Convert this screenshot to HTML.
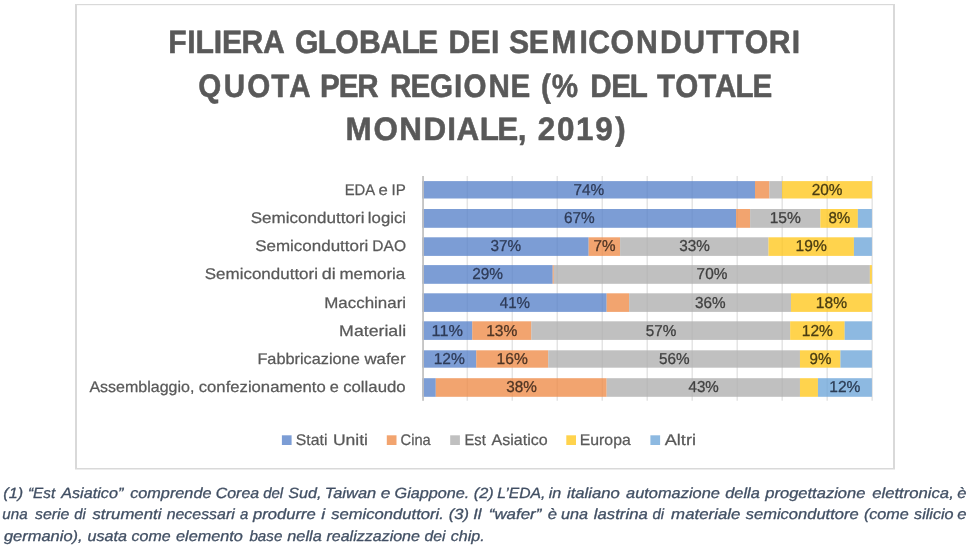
<!DOCTYPE html>
<html lang="it">
<head>
<meta charset="utf-8">
<title>Filiera globale dei semiconduttori</title>
<style>
html,body{margin:0;padding:0;background:#fff;}
body{width:970px;height:546px;overflow:hidden;}
svg{display:block;}
svg{font-family:"Liberation Sans", sans-serif;}
text{text-rendering:geometricPrecision;white-space:pre;}
</style>
</head>
<body>
<svg width="970" height="546" viewBox="0 0 970 546">
<defs><filter id="soft" x="0" y="0" width="970" height="546" filterUnits="userSpaceOnUse" color-interpolation-filters="sRGB"><feGaussianBlur stdDeviation="0.4"/></filter></defs>
<rect width="970" height="546" fill="#ffffff"/>
<rect x="75.0" y="4.0" width="820.0" height="465.5" fill="#d9d9d9"/>
<rect x="77.0" y="5.2" width="816.0" height="462.8" fill="#ffffff"/>
<g filter="url(#soft)">
<g>
<line x1="467.29" y1="176.0" x2="467.29" y2="400.8" stroke="#d9d9d9" stroke-width="1.5" stroke-opacity="0.7"/>
<line x1="512.28" y1="176.0" x2="512.28" y2="400.8" stroke="#d9d9d9" stroke-width="1.5" stroke-opacity="0.7"/>
<line x1="557.27" y1="176.0" x2="557.27" y2="400.8" stroke="#d9d9d9" stroke-width="1.5" stroke-opacity="0.7"/>
<line x1="602.26" y1="176.0" x2="602.26" y2="400.8" stroke="#d9d9d9" stroke-width="1.5" stroke-opacity="0.7"/>
<line x1="647.25" y1="176.0" x2="647.25" y2="400.8" stroke="#d9d9d9" stroke-width="1.5" stroke-opacity="0.7"/>
<line x1="692.24" y1="176.0" x2="692.24" y2="400.8" stroke="#d9d9d9" stroke-width="1.5" stroke-opacity="0.7"/>
<line x1="737.23" y1="176.0" x2="737.23" y2="400.8" stroke="#d9d9d9" stroke-width="1.5" stroke-opacity="0.7"/>
<line x1="782.22" y1="176.0" x2="782.22" y2="400.8" stroke="#d9d9d9" stroke-width="1.5" stroke-opacity="0.7"/>
<line x1="827.21" y1="176.0" x2="827.21" y2="400.8" stroke="#d9d9d9" stroke-width="1.5" stroke-opacity="0.7"/>
<line x1="872.20" y1="176.0" x2="872.20" y2="400.8" stroke="#d9d9d9" stroke-width="1.5" stroke-opacity="0.7"/>
<rect x="422.30" y="181.10" width="332.70" height="17.4" fill="#5b84cb" fill-opacity="0.8"/>
<rect x="755.00" y="181.10" width="14.39" height="17.4" fill="#ef8d4b" fill-opacity="0.8"/>
<rect x="769.39" y="181.10" width="12.59" height="17.4" fill="#b0b0b0" fill-opacity="0.8"/>
<rect x="781.98" y="181.10" width="89.92" height="17.4" fill="#ffc820" fill-opacity="0.8"/>
<rect x="422.30" y="209.00" width="313.78" height="18.8" fill="#5b84cb" fill-opacity="0.8"/>
<rect x="736.08" y="209.00" width="14.05" height="18.8" fill="#ef8d4b" fill-opacity="0.8"/>
<rect x="750.13" y="209.00" width="70.25" height="18.8" fill="#b0b0b0" fill-opacity="0.8"/>
<rect x="820.38" y="209.00" width="37.47" height="18.8" fill="#ffc820" fill-opacity="0.8"/>
<rect x="857.85" y="209.00" width="14.05" height="18.8" fill="#70a8da" fill-opacity="0.8"/>
<rect x="422.30" y="237.30" width="166.35" height="18.6" fill="#5b84cb" fill-opacity="0.8"/>
<rect x="588.65" y="237.30" width="31.47" height="18.6" fill="#ef8d4b" fill-opacity="0.8"/>
<rect x="620.12" y="237.30" width="148.37" height="18.6" fill="#b0b0b0" fill-opacity="0.8"/>
<rect x="768.49" y="237.30" width="85.42" height="18.6" fill="#ffc820" fill-opacity="0.8"/>
<rect x="853.92" y="237.30" width="17.98" height="18.6" fill="#70a8da" fill-opacity="0.8"/>
<rect x="422.30" y="265.10" width="130.38" height="18.7" fill="#5b84cb" fill-opacity="0.8"/>
<rect x="552.68" y="265.10" width="1.12" height="18.7" fill="#ef8d4b" fill-opacity="0.8"/>
<rect x="553.81" y="265.10" width="316.07" height="18.7" fill="#b0b0b0" fill-opacity="0.8"/>
<rect x="869.88" y="265.10" width="2.02" height="18.7" fill="#ffc820" fill-opacity="0.8"/>
<rect x="422.30" y="293.30" width="184.34" height="18.6" fill="#5b84cb" fill-opacity="0.8"/>
<rect x="606.64" y="293.30" width="22.48" height="18.6" fill="#ef8d4b" fill-opacity="0.8"/>
<rect x="629.12" y="293.30" width="161.86" height="18.6" fill="#b0b0b0" fill-opacity="0.8"/>
<rect x="790.97" y="293.30" width="80.93" height="18.6" fill="#ffc820" fill-opacity="0.8"/>
<rect x="422.30" y="321.30" width="49.96" height="18.6" fill="#5b84cb" fill-opacity="0.8"/>
<rect x="472.26" y="321.30" width="59.04" height="18.6" fill="#ef8d4b" fill-opacity="0.8"/>
<rect x="531.29" y="321.30" width="258.86" height="18.6" fill="#b0b0b0" fill-opacity="0.8"/>
<rect x="790.15" y="321.30" width="54.50" height="18.6" fill="#ffc820" fill-opacity="0.8"/>
<rect x="844.65" y="321.30" width="27.25" height="18.6" fill="#70a8da" fill-opacity="0.8"/>
<rect x="422.30" y="350.30" width="53.95" height="17.4" fill="#5b84cb" fill-opacity="0.8"/>
<rect x="476.25" y="350.30" width="71.94" height="17.4" fill="#ef8d4b" fill-opacity="0.8"/>
<rect x="548.19" y="350.30" width="251.78" height="17.4" fill="#b0b0b0" fill-opacity="0.8"/>
<rect x="799.96" y="350.30" width="40.46" height="17.4" fill="#ffc820" fill-opacity="0.8"/>
<rect x="840.43" y="350.30" width="31.47" height="17.4" fill="#70a8da" fill-opacity="0.8"/>
<rect x="422.30" y="378.20" width="13.49" height="18.6" fill="#5b84cb" fill-opacity="0.8"/>
<rect x="435.79" y="378.20" width="170.85" height="18.6" fill="#ef8d4b" fill-opacity="0.8"/>
<rect x="606.64" y="378.20" width="193.33" height="18.6" fill="#b0b0b0" fill-opacity="0.8"/>
<rect x="799.96" y="378.20" width="17.98" height="18.6" fill="#ffc820" fill-opacity="0.8"/>
<rect x="817.95" y="378.20" width="53.95" height="18.6" fill="#70a8da" fill-opacity="0.8"/>
<rect x="422.2" y="176.0" width="1.7" height="224.8" fill="#bfbfbf"/>
<rect x="281.9" y="435.3" width="9.7" height="9.7" fill="#5b84cb" fill-opacity="0.8"/>
<rect x="386.8" y="435.3" width="9.7" height="9.7" fill="#ef8d4b" fill-opacity="0.8"/>
<rect x="450.2" y="435.3" width="9.7" height="9.7" fill="#b0b0b0" fill-opacity="0.8"/>
<rect x="566.3" y="435.3" width="9.7" height="9.7" fill="#ffc820" fill-opacity="0.8"/>
<rect x="650.4" y="435.3" width="9.7" height="9.7" fill="#70a8da" fill-opacity="0.8"/>
</g>
<g>
<text transform="translate(0 52.70) scale(0.9321 1)" x="180.5 200.9 209.8 229.2 238.2 259.0 282.1 299.3 316.5 340.8 359.8 385.1 407.9 430.8 448.5 464.9 481.2 504.9 526.7 536.4 546.1 567.3 591.3 621.8 631.0 655.0 682.3 708.0 732.9 757.5 778.2 798.9 824.8 849.4" font-size="32.4" font-weight="bold" fill="#595959" stroke="#595959" stroke-width="0.55" stroke-linejoin="round" vector-effect="non-scaling-stroke">FILIERA GLOBALE DEI SEMICONDUTTORI</text>
<text transform="translate(0 96.70) scale(0.9128 1)" x="217.2 245.1 270.9 297.3 317.0 333.8 350.6 371.0 391.5 409.4 427.4 449.8 471.0 497.4 507.9 535.2 559.3 576.0 592.7 604.6 625.6 646.5 669.7 690.0 704.8 719.7 739.9 764.9 783.3 805.8 824.5" font-size="32.4" font-weight="bold" fill="#595959" stroke="#595959" stroke-width="0.55" stroke-linejoin="round" vector-effect="non-scaling-stroke">QUOTA PER REGIONE (% DEL TOTALE</text>
<text transform="translate(0 140.40) scale(0.9700 1)" x="356.1 385.1 411.7 436.5 461.0 470.6 494.5 512.7 533.9 544.1 554.4 574.2 593.9 613.7 634.4" font-size="32.4" font-weight="bold" fill="#595959" stroke="#595959" stroke-width="0.55" stroke-linejoin="round" vector-effect="non-scaling-stroke">MONDIALE, 2019)</text>
<text y="194.80" font-size="15.8" fill="#2e3b58" stroke="#2e3b58" stroke-width="0.3" stroke-linejoin="round"><tspan lengthAdjust="spacingAndGlyphs" x="573.43" textLength="30.75">74%</tspan></text>
<text y="194.80" font-size="15.8" fill="#4a3d12" stroke="#4a3d12" stroke-width="0.3" stroke-linejoin="round"><tspan lengthAdjust="spacingAndGlyphs" x="811.72" textLength="30.75">20%</tspan></text>
<text y="194.50" font-size="15.4" fill="#595959" stroke="#595959" stroke-width="0.25" stroke-linejoin="round"><tspan lengthAdjust="spacingAndGlyphs" x="344.67" textLength="29.72">EDA</tspan> <tspan lengthAdjust="spacingAndGlyphs" x="378.46" textLength="9.31">e</tspan> <tspan lengthAdjust="spacingAndGlyphs" x="391.47" textLength="14.26">IP</tspan></text>
<text y="222.80" font-size="15.8" fill="#2e3b58" stroke="#2e3b58" stroke-width="0.3" stroke-linejoin="round"><tspan lengthAdjust="spacingAndGlyphs" x="563.97" textLength="30.75">67%</tspan></text>
<text y="222.80" font-size="15.8" fill="#404040" stroke="#404040" stroke-width="0.3" stroke-linejoin="round"><tspan lengthAdjust="spacingAndGlyphs" x="769.64" textLength="31.16">15%</tspan></text>
<text y="222.80" font-size="15.8" fill="#4a3d12" stroke="#4a3d12" stroke-width="0.3" stroke-linejoin="round"><tspan lengthAdjust="spacingAndGlyphs" x="828.46" textLength="21.84">8%</tspan></text>
<text y="222.50" font-size="15.4" fill="#595959" stroke="#595959" stroke-width="0.25" stroke-linejoin="round"><tspan lengthAdjust="spacingAndGlyphs" x="250.66" textLength="113.83">Semiconduttori</tspan> <tspan lengthAdjust="spacingAndGlyphs" x="367.84" textLength="38.21">logici</tspan></text>
<text y="250.80" font-size="15.8" fill="#2e3b58" stroke="#2e3b58" stroke-width="0.3" stroke-linejoin="round"><tspan lengthAdjust="spacingAndGlyphs" x="490.41" textLength="30.59">37%</tspan></text>
<text y="250.80" font-size="15.8" fill="#4f3524" stroke="#4f3524" stroke-width="0.3" stroke-linejoin="round"><tspan lengthAdjust="spacingAndGlyphs" x="593.58" textLength="22.00">7%</tspan></text>
<text y="250.80" font-size="15.8" fill="#404040" stroke="#404040" stroke-width="0.3" stroke-linejoin="round"><tspan lengthAdjust="spacingAndGlyphs" x="679.25" textLength="30.59">33%</tspan></text>
<text y="250.80" font-size="15.8" fill="#4a3d12" stroke="#4a3d12" stroke-width="0.3" stroke-linejoin="round"><tspan lengthAdjust="spacingAndGlyphs" x="795.59" textLength="31.16">19%</tspan></text>
<text y="250.50" font-size="15.4" fill="#595959" stroke="#595959" stroke-width="0.25" stroke-linejoin="round"><tspan lengthAdjust="spacingAndGlyphs" x="255.16" textLength="113.22">Semiconduttori</tspan> <tspan lengthAdjust="spacingAndGlyphs" x="372.28" textLength="33.73">DAO</tspan></text>
<text y="278.80" font-size="15.8" fill="#2e3b58" stroke="#2e3b58" stroke-width="0.3" stroke-linejoin="round"><tspan lengthAdjust="spacingAndGlyphs" x="472.27" textLength="30.75">29%</tspan></text>
<text y="278.80" font-size="15.8" fill="#404040" stroke="#404040" stroke-width="0.3" stroke-linejoin="round"><tspan lengthAdjust="spacingAndGlyphs" x="696.62" textLength="30.75">70%</tspan></text>
<text y="278.50" font-size="15.4" fill="#595959" stroke="#595959" stroke-width="0.25" stroke-linejoin="round"><tspan lengthAdjust="spacingAndGlyphs" x="204.76" textLength="113.22">Semiconduttori</tspan> <tspan lengthAdjust="spacingAndGlyphs" x="321.81" textLength="14.01">di</tspan> <tspan lengthAdjust="spacingAndGlyphs" x="339.42" textLength="65.84">memoria</tspan></text>
<text y="308.00" font-size="15.8" fill="#2e3b58" stroke="#2e3b58" stroke-width="0.3" stroke-linejoin="round"><tspan lengthAdjust="spacingAndGlyphs" x="499.72" textLength="30.28">41%</tspan></text>
<text y="308.00" font-size="15.8" fill="#404040" stroke="#404040" stroke-width="0.3" stroke-linejoin="round"><tspan lengthAdjust="spacingAndGlyphs" x="694.98" textLength="30.59">36%</tspan></text>
<text y="308.00" font-size="15.8" fill="#4a3d12" stroke="#4a3d12" stroke-width="0.3" stroke-linejoin="round"><tspan lengthAdjust="spacingAndGlyphs" x="815.82" textLength="31.16">18%</tspan></text>
<text y="307.70" font-size="15.4" fill="#595959" stroke="#595959" stroke-width="0.25" stroke-linejoin="round"><tspan lengthAdjust="spacingAndGlyphs" x="324.27" textLength="81.80">Macchinari</tspan></text>
<text y="336.20" font-size="15.8" fill="#2e3b58" stroke="#2e3b58" stroke-width="0.3" stroke-linejoin="round"><tspan lengthAdjust="spacingAndGlyphs" x="431.61" textLength="31.24">11%</tspan></text>
<text y="336.20" font-size="15.8" fill="#4f3524" stroke="#4f3524" stroke-width="0.3" stroke-linejoin="round"><tspan lengthAdjust="spacingAndGlyphs" x="486.16" textLength="31.16">13%</tspan></text>
<text y="336.20" font-size="15.8" fill="#404040" stroke="#404040" stroke-width="0.3" stroke-linejoin="round"><tspan lengthAdjust="spacingAndGlyphs" x="645.66" textLength="30.59">57%</tspan></text>
<text y="336.20" font-size="15.8" fill="#4a3d12" stroke="#4a3d12" stroke-width="0.3" stroke-linejoin="round"><tspan lengthAdjust="spacingAndGlyphs" x="801.79" textLength="31.16">12%</tspan></text>
<text y="335.90" font-size="15.4" fill="#595959" stroke="#595959" stroke-width="0.25" stroke-linejoin="round"><tspan lengthAdjust="spacingAndGlyphs" x="339.11" textLength="67.00">Materiali</tspan></text>
<text y="364.20" font-size="15.8" fill="#2e3b58" stroke="#2e3b58" stroke-width="0.3" stroke-linejoin="round"><tspan lengthAdjust="spacingAndGlyphs" x="433.66" textLength="31.16">12%</tspan></text>
<text y="364.20" font-size="15.8" fill="#4f3524" stroke="#4f3524" stroke-width="0.3" stroke-linejoin="round"><tspan lengthAdjust="spacingAndGlyphs" x="496.60" textLength="31.16">16%</tspan></text>
<text y="364.20" font-size="15.8" fill="#404040" stroke="#404040" stroke-width="0.3" stroke-linejoin="round"><tspan lengthAdjust="spacingAndGlyphs" x="659.01" textLength="30.59">56%</tspan></text>
<text y="364.20" font-size="15.8" fill="#4a3d12" stroke="#4a3d12" stroke-width="0.3" stroke-linejoin="round"><tspan lengthAdjust="spacingAndGlyphs" x="809.46" textLength="21.92">9%</tspan></text>
<text y="363.90" font-size="15.4" fill="#595959" stroke="#595959" stroke-width="0.25" stroke-linejoin="round"><tspan lengthAdjust="spacingAndGlyphs" x="257.42" textLength="102.33">Fabbricazione</tspan> <tspan lengthAdjust="spacingAndGlyphs" x="364.43" textLength="41.11">wafer</tspan></text>
<text y="392.20" font-size="15.8" fill="#4f3524" stroke="#4f3524" stroke-width="0.3" stroke-linejoin="round"><tspan lengthAdjust="spacingAndGlyphs" x="506.15" textLength="30.59">38%</tspan></text>
<text y="392.20" font-size="15.8" fill="#404040" stroke="#404040" stroke-width="0.3" stroke-linejoin="round"><tspan lengthAdjust="spacingAndGlyphs" x="688.55" textLength="30.28">43%</tspan></text>
<text y="392.20" font-size="15.8" fill="#2c3d55" stroke="#2c3d55" stroke-width="0.3" stroke-linejoin="round"><tspan lengthAdjust="spacingAndGlyphs" x="829.31" textLength="31.16">12%</tspan></text>
<text y="391.90" font-size="15.4" fill="#595959" stroke="#595959" stroke-width="0.25" stroke-linejoin="round"><tspan lengthAdjust="spacingAndGlyphs" x="89.44" textLength="104.96">Assemblaggio,</tspan> <tspan lengthAdjust="spacingAndGlyphs" x="198.76" textLength="127.00">confezionamento</tspan> <tspan lengthAdjust="spacingAndGlyphs" x="329.87" textLength="9.07">e</tspan> <tspan lengthAdjust="spacingAndGlyphs" x="343.15" textLength="62.49">collaudo</tspan></text>
<text y="444.60" font-size="15.4" fill="#595959" stroke="#595959" stroke-width="0.25" stroke-linejoin="round"><tspan lengthAdjust="spacingAndGlyphs" x="295.81" textLength="31.60">Stati</tspan> <tspan lengthAdjust="spacingAndGlyphs" x="332.91" textLength="35.12">Uniti</tspan></text>
<text y="444.60" font-size="15.4" fill="#595959" stroke="#595959" stroke-width="0.25" stroke-linejoin="round"><tspan lengthAdjust="spacingAndGlyphs" x="400.59" textLength="30.13">Cina</tspan></text>
<text y="444.60" font-size="15.4" fill="#595959" stroke="#595959" stroke-width="0.25" stroke-linejoin="round"><tspan lengthAdjust="spacingAndGlyphs" x="464.55" textLength="21.30">Est</tspan> <tspan lengthAdjust="spacingAndGlyphs" x="491.54" textLength="56.20">Asiatico</tspan></text>
<text y="444.60" font-size="15.4" fill="#595959" stroke="#595959" stroke-width="0.25" stroke-linejoin="round"><tspan lengthAdjust="spacingAndGlyphs" x="579.76" textLength="51.01">Europa</tspan></text>
<text y="444.60" font-size="15.4" fill="#595959" stroke="#595959" stroke-width="0.25" stroke-linejoin="round"><tspan lengthAdjust="spacingAndGlyphs" x="664.73" textLength="31.26">Altri</tspan></text>
<text y="497.70" font-size="14.8" fill="#414f63" stroke="#414f63" stroke-width="0.3" stroke-linejoin="round" font-style="italic"><tspan lengthAdjust="spacingAndGlyphs" x="3.32" textLength="19.86">(1)</tspan> <tspan lengthAdjust="spacingAndGlyphs" x="27.96" textLength="27.24">“Est</tspan> <tspan lengthAdjust="spacingAndGlyphs" x="61.20" textLength="62.14">Asiatico”</tspan> <tspan lengthAdjust="spacingAndGlyphs" x="130.16" textLength="81.30">comprende</tspan> <tspan lengthAdjust="spacingAndGlyphs" x="215.71" textLength="43.44">Corea</tspan> <tspan lengthAdjust="spacingAndGlyphs" x="263.16" textLength="19.95">del</tspan> <tspan lengthAdjust="spacingAndGlyphs" x="288.28" textLength="33.15">Sud,</tspan> <tspan lengthAdjust="spacingAndGlyphs" x="324.68" textLength="51.55">Taiwan</tspan> <tspan lengthAdjust="spacingAndGlyphs" x="380.82" textLength="9.66">e</tspan> <tspan lengthAdjust="spacingAndGlyphs" x="394.57" textLength="74.79">Giappone.</tspan> <tspan lengthAdjust="spacingAndGlyphs" x="473.84" textLength="19.93">(2)</tspan> <tspan lengthAdjust="spacingAndGlyphs" x="497.35" textLength="47.97">L’EDA,</tspan> <tspan lengthAdjust="spacingAndGlyphs" x="548.69" textLength="12.58">in</tspan> <tspan lengthAdjust="spacingAndGlyphs" x="566.97" textLength="52.90">italiano</tspan> <tspan lengthAdjust="spacingAndGlyphs" x="626.07" textLength="93.81">automazione</tspan> <tspan lengthAdjust="spacingAndGlyphs" x="725.24" textLength="34.57">della</tspan> <tspan lengthAdjust="spacingAndGlyphs" x="765.24" textLength="100.20">progettazione</tspan> <tspan lengthAdjust="spacingAndGlyphs" x="872.16" textLength="81.63">elettronica,</tspan> <tspan lengthAdjust="spacingAndGlyphs" x="957.30" textLength="9.20">è</tspan></text>
<text y="519.20" font-size="14.8" fill="#414f63" stroke="#414f63" stroke-width="0.3" stroke-linejoin="round" font-style="italic"><tspan lengthAdjust="spacingAndGlyphs" x="2.28" textLength="25.34">una</tspan> <tspan lengthAdjust="spacingAndGlyphs" x="34.94" textLength="34.44">serie</tspan> <tspan lengthAdjust="spacingAndGlyphs" x="74.29" textLength="11.46">di</tspan> <tspan lengthAdjust="spacingAndGlyphs" x="92.43" textLength="68.99">strumenti</tspan> <tspan lengthAdjust="spacingAndGlyphs" x="166.67" textLength="68.10">necessari</tspan> <tspan lengthAdjust="spacingAndGlyphs" x="239.91" textLength="8.34">a</tspan> <tspan lengthAdjust="spacingAndGlyphs" x="253.07" textLength="62.75">produrre</tspan> <tspan lengthAdjust="spacingAndGlyphs" x="321.19" textLength="3.95">i</tspan> <tspan lengthAdjust="spacingAndGlyphs" x="331.20" textLength="112.72">semiconduttori.</tspan> <tspan lengthAdjust="spacingAndGlyphs" x="448.81" textLength="20.19">(3)</tspan> <tspan lengthAdjust="spacingAndGlyphs" x="473.22" textLength="8.38">Il</tspan> <tspan lengthAdjust="spacingAndGlyphs" x="488.78" textLength="52.61">“wafer”</tspan> <tspan lengthAdjust="spacingAndGlyphs" x="547.67" textLength="9.26">è</tspan> <tspan lengthAdjust="spacingAndGlyphs" x="560.95" textLength="27.09">una</tspan> <tspan lengthAdjust="spacingAndGlyphs" x="593.83" textLength="53.95">lastrina</tspan> <tspan lengthAdjust="spacingAndGlyphs" x="652.61" textLength="11.52">di</tspan> <tspan lengthAdjust="spacingAndGlyphs" x="671.13" textLength="69.23">materiale</tspan> <tspan lengthAdjust="spacingAndGlyphs" x="745.76" textLength="112.91">semiconduttore</tspan> <tspan lengthAdjust="spacingAndGlyphs" x="863.91" textLength="44.90">(come</tspan> <tspan lengthAdjust="spacingAndGlyphs" x="914.09" textLength="39.52">silicio</tspan> <tspan lengthAdjust="spacingAndGlyphs" x="957.27" textLength="9.26">e</tspan></text>
<text y="540.80" font-size="14.8" fill="#414f63" stroke="#414f63" stroke-width="0.3" stroke-linejoin="round" font-style="italic"><tspan lengthAdjust="spacingAndGlyphs" x="3.95" textLength="78.68">germanio),</tspan> <tspan lengthAdjust="spacingAndGlyphs" x="87.41" textLength="39.53">usata</tspan> <tspan lengthAdjust="spacingAndGlyphs" x="131.64" textLength="39.10">come</tspan> <tspan lengthAdjust="spacingAndGlyphs" x="176.07" textLength="66.84">elemento</tspan> <tspan lengthAdjust="spacingAndGlyphs" x="249.45" textLength="32.89">base</tspan> <tspan lengthAdjust="spacingAndGlyphs" x="287.31" textLength="34.47">nella</tspan> <tspan lengthAdjust="spacingAndGlyphs" x="326.49" textLength="93.45">realizzazione</tspan> <tspan lengthAdjust="spacingAndGlyphs" x="424.45" textLength="21.00">dei</tspan> <tspan lengthAdjust="spacingAndGlyphs" x="450.87" textLength="33.84">chip.</tspan></text>
</g>
</g>
</svg>
</body>
</html>
